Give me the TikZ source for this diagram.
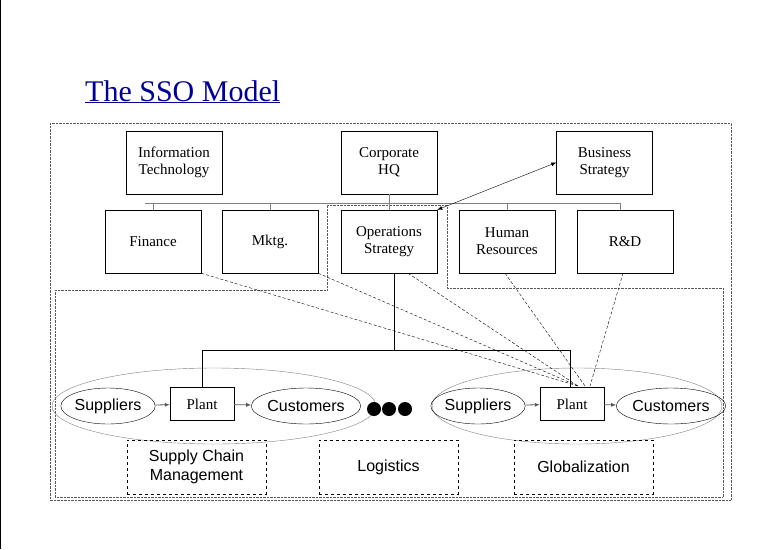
\documentclass[tikz,border=0pt]{standalone}
\usepackage{fontspec}
\setmainfont{Liberation Serif}
\newfontfamily\sansf{Liberation Sans}
\usetikzlibrary{arrows.meta,shapes.geometric}
\definecolor{ttl}{RGB}{0,0,150}
\begin{document}
\begin{tikzpicture}[x=1pt,y=-1pt,
 box/.style={draw,minimum width=96pt,minimum height=63pt,align=center,font=\fontsize{15}{17}\selectfont,inner sep=1pt},
 pbox/.style={draw,minimum width=64pt,minimum height=33pt,font=\fontsize{15}{17}\selectfont},
 ell/.style={draw,ellipse,minimum width=76pt,minimum height=36pt,inner sep=0pt,font=\sansf\fontsize{16}{18}\selectfont},
 dbox/.style={draw,dashed,minimum width=139pt,minimum height=54pt,align=center,font=\sansf\fontsize{16}{19}\selectfont},
 dot/.style={densely dotted,gray!70!black},
 flow/.style={gray!70!black,-{Latex[length=5pt,width=4pt]},thick},
 dl/.style={densely dashed}]
\useasboundingbox (0,0) rectangle (778,549);
\fill[white] (0,0) rectangle (778,549);
\draw (0.5,0) -- (0.5,549);
\node[anchor=base west,text=ttl,font=\fontsize{30}{32}\selectfont,inner sep=0pt] (title) at (85,101) {\underline{The SSO Model}};
\draw[dot] (50,123) rectangle (731,500);
\draw[dot] (55,290) -- (327,290) -- (327,205) -- (447,205) -- (447,288) -- (723,288) -- (723,497) -- (55,497) -- cycle;
\node[box] (it) at (174,162.5) {Information\\Technology};
\node[box] (hq) at (389,162.5) {Corporate\\HQ};
\node[box] (bs) at (604.5,162.5) {Business\\Strategy};
\node[box] (fin) at (153,241.5) {Finance};
\node[box] (mk) at (270,241.5) {Mktg.};
\node[box] (ops) at (389,241.5) {Operations\\Strategy};
\node[box] (hr) at (507,241.5) {Human\\Resources};
\node[box] (rd) at (625,241.5) {R\&D};
\draw[gray] (hq.south) -- (389,203);
\draw[gray] (145,203) -- (620,203);
\foreach \n/\x in {fin/153,mk/270,ops/389,hr/507,rd/620} \draw[gray] (\x,203) -- (\x,210);
\draw[{Latex[length=5pt,width=4pt]}-{Latex[length=5pt,width=4pt]}] (ops.north east) -- (bs.west);
% supply chains
\draw[gray] (214,406) ellipse (162 and 38);
\draw[gray] (577,406) ellipse (145 and 38);
\node[ell] (s1) at (108,406) {Suppliers};
\node[pbox] (p1) at (202,404) {Plant};
\node[ell,minimum width=90pt] (c1) at (306,406) {Customers};
\node[ell] (s2) at (478,406) {Suppliers};
\node[pbox] (p2) at (572,404) {Plant};
\node[ell,minimum width=90pt] (c2) at (671,406) {Customers};
\draw[flow] (s1) -- (p1); \draw[flow] (p1) -- (c1);
\draw[flow] (s2) -- (p2); \draw[flow] (p2) -- (c2);
\foreach \x in {374,389,405} \fill (\x,409) circle (7);
\coordinate (j) at (394,350);
\draw (ops.south -| j) -- (j);
\draw (p1.north) -- (p1.north |- j) -- (570,350) -- (570,387.5);
\coordinate (t) at (578,386);
\draw[dl] (fin.south east) -- (t);
\draw[dl] (mk.south east) -- (t);
\draw[dl] ([xshift=19pt]ops.south) -- (t);
\draw[dl] ([xshift=-2pt]hr.south) -- (585,386);
\draw[dl] ([xshift=-2pt]rd.south) -- (590,386);
\node[dbox] (scm) at (196.5,467) {Supply Chain\\Management};
\node[dbox] (log) at (388.5,467) {Logistics};
\node[dbox] (glo) at (583.5,467) {Globalization};
\end{tikzpicture}
\end{document}
